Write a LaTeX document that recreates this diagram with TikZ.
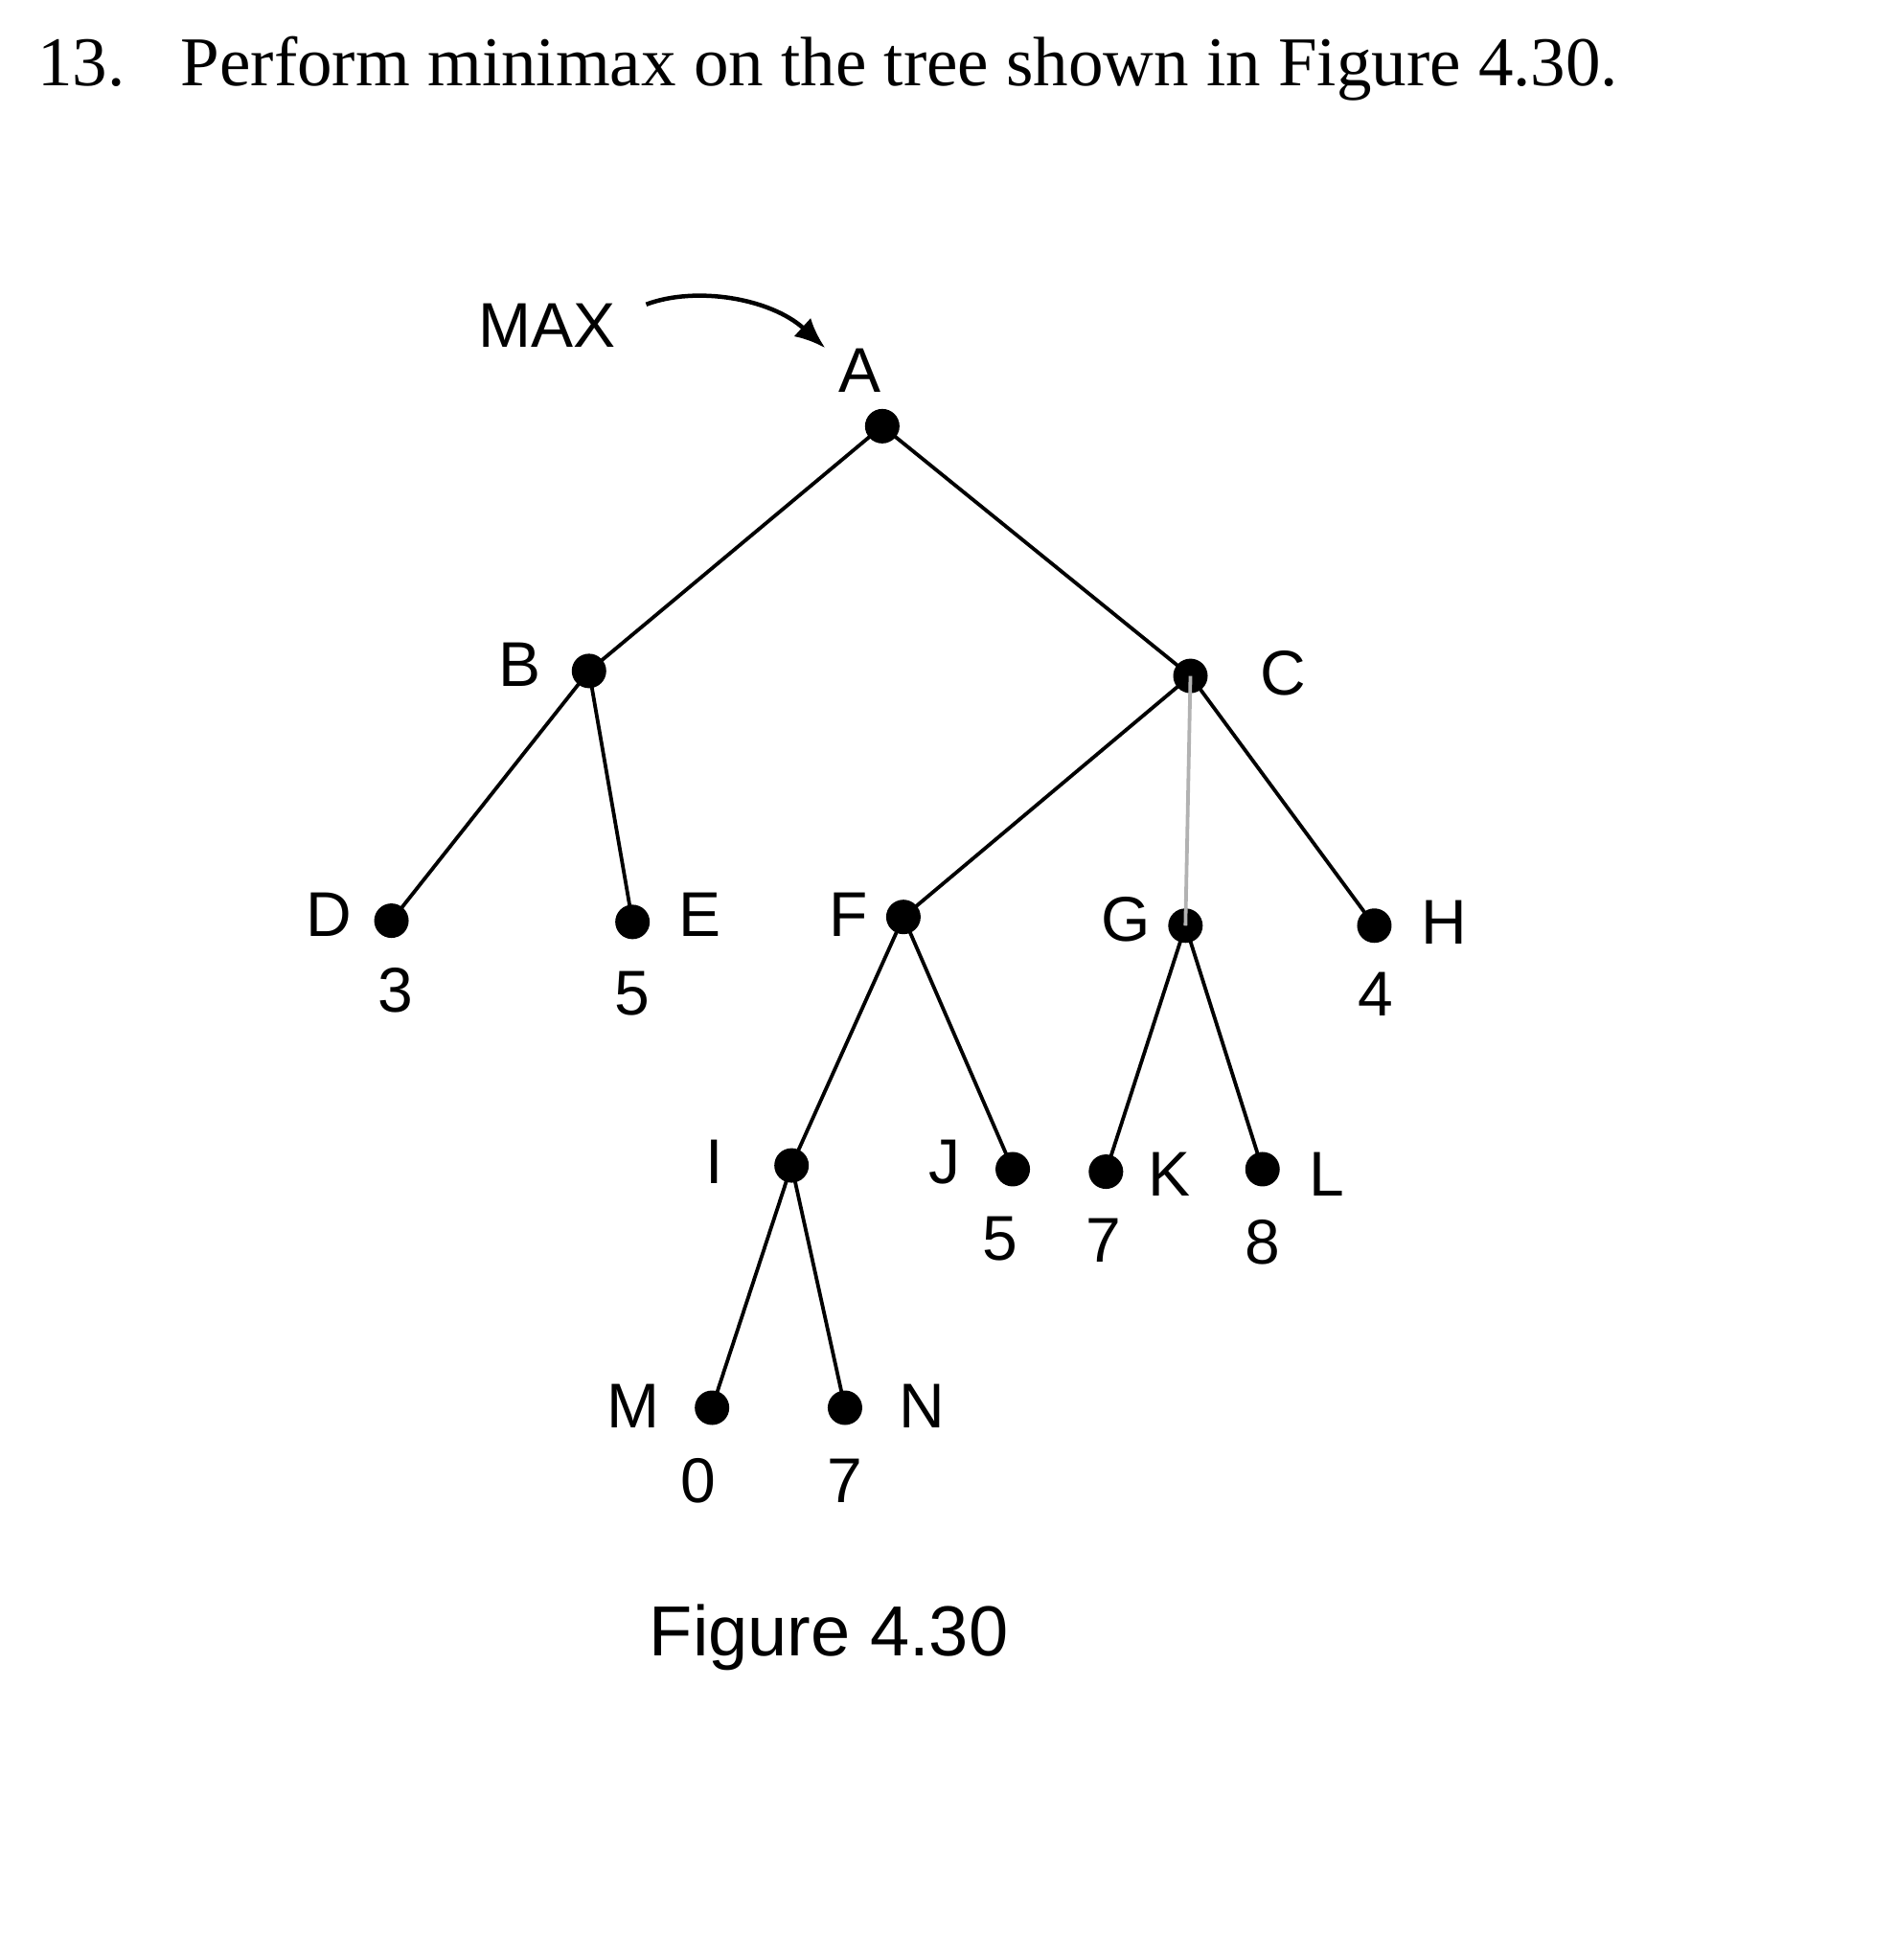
\documentclass[tikz,border=0pt]{standalone}
\usepackage{fontspec}
\usetikzlibrary{arrows.meta}
\setmainfont{Liberation Serif}
\newfontfamily\labfont{Liberation Sans}
\begin{document}
\begin{tikzpicture}[x=1.297pt,y=-1.297pt,
  dot/.style={circle,fill=black,inner sep=0pt,minimum size=36pt},
  lab/.style={font=\labfont\fontsize{66}{66}\selectfont,inner sep=0pt},
  edge/.style={line width=3.8pt}]
\useasboundingbox (0,0) rectangle (1526,1577.5);
\node[anchor=west,inner sep=0pt,font=\fontsize{73}{73}\selectfont] (title) at (30,55) {13.\hspace{0.8em}Perform minimax on the tree shown in Figure 4.30.};
\foreach \n/\x/\y in {A/710/343,B/474/540,C/958/544,D/315/741,E/509/742,F/727/738,G/954/745,H/1106/745,I/637/938,J/815/941,K/890/943,L/1016/941,M/573/1133,N/680/1133}
  \node[dot] (\n) at (\x,\y) {};
\foreach \n/\x/\y in {A/692/298,B/418/535,C/1033/542,D/265/736,E/563/736,F/683/736,G/906/740,H/1162/742,I/575/935,J/760/935,K/941/945,L/1068/945,M/510/1132,N/742/1132}
  \node[lab] (l\n) at (\x,\y) {\n};
\foreach \v/\x/\y [count=\i] in {3/318/797,5/509/800,4/1107/800,5/805/997,7/888/998,8/1016/1000,0/562/1192,7/680/1192}
  \node[lab] (v\i) at (\x,\y) {\v};
\draw[edge] (A.center)--(B.center) (A.center)--(C.center) (B.center)--(D.center) (B.center)--(E.center)
  (C.center)--(F.center) (C.center)--(H.center) (F.center)--(I.center) (F.center)--(J.center)
  (G.center)--(K.center) (G.center)--(L.center) (I.center)--(M.center) (I.center)--(N.center);
\draw[edge,gray!60] (C.center)--(G.center);
\node[lab] (max) at (440,262) {MAX};
\coordinate (as) at (520,245);
\coordinate (ae) at (664,280);
\draw[line width=4.5pt,-{Latex[length=32pt,width=26pt]}] (as) .. controls (560,230) and (620,240) .. (ae);
\node[lab,font=\labfont\fontsize{74}{74}\selectfont] (fig) at (667,1318) {Figure 4.30};
\end{tikzpicture}
\end{document}
